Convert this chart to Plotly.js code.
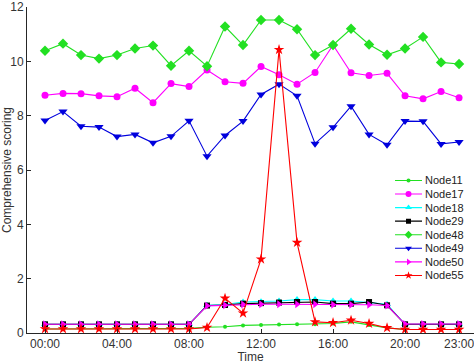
<!DOCTYPE html>
<html>
<head>
<meta charset="utf-8">
<script src="https://cdn.plot.ly/plotly-3.0.1.min.js"></script>
<style>html,body{margin:0;padding:0;background:#fff;}#chart{width:474px;height:364px;}</style>
</head>
<body>
<div id="chart"></div>
<script>
// Hours 0..23
var hours = [0,1,2,3,4,5,6,7,8,9,10,11,12,13,14,15,16,17,18,19,20,21,22,23];
var tickVals = [0,4,8,12,16,20,23];
var tickText = ["00:00","04:00","08:00","12:00","16:00","20:00","23:00"];
var seriesNames = ["Node11","Node17","Node18","Node29","Node48","Node49","Node50","Node55"];

var node11 = [0.15,0.15,0.15,0.15,0.15,0.15,0.15,0.15,0.17,0.21,0.23,0.28,0.29,0.31,0.32,0.32,0.35,0.41,0.29,0.19,0.13,0.13,0.13,0.13];
var node17 = [8.75,8.82,8.81,8.73,8.70,9.01,8.48,9.18,9.07,9.68,9.25,9.19,9.81,9.51,9.16,9.59,10.60,9.58,9.48,9.56,8.73,8.62,8.89,8.66];
var node18 = [0.32,0.32,0.32,0.32,0.32,0.32,0.32,0.32,0.32,1.02,1.05,1.14,1.15,1.18,1.23,1.23,1.18,1.18,1.12,1.06,0.32,0.32,0.32,0.32];
var node29 = [0.32,0.32,0.32,0.32,0.32,0.32,0.32,0.32,0.32,1.01,1.03,1.08,1.10,1.12,1.14,1.14,1.08,1.08,1.14,1.02,0.32,0.32,0.32,0.32];
var node48 = [10.39,10.65,10.23,10.10,10.23,10.47,10.58,9.84,10.39,9.82,11.28,10.60,11.52,11.52,11.18,10.23,10.60,11.20,10.62,10.24,10.47,10.90,9.96,9.90];
var node49 = [7.82,8.15,7.61,7.58,7.23,7.31,7.00,7.24,7.81,6.51,7.27,7.80,8.78,9.16,8.73,6.97,7.57,8.35,7.31,6.93,7.80,7.79,6.96,7.03];
var node50 = [0.32,0.32,0.32,0.32,0.32,0.32,0.32,0.32,0.32,1.00,1.02,1.05,1.06,1.06,1.06,1.06,1.04,1.04,1.04,1.01,0.33,0.33,0.33,0.33];
var node55 = [0.15,0.15,0.15,0.15,0.15,0.15,0.15,0.15,0.15,0.20,1.28,0.73,2.72,10.43,3.33,0.41,0.38,0.47,0.35,0.19,0.13,0.13,0.13,0.13];

var seriesValues = [node11, node17, node18, node29, node48, node49, node50, node55];
var colors = ['#22e022','#ff00ff','#00ffff','#000000','#22e022','#0000dd','#ff00ff','#ff0000'];
var symbols = ['circle','circle','triangle-up','square','diamond','triangle-down','triangle-right','star'];
var sizes = [4,7,7,6,8,8,7,8];
var legSizes = [4,6,6,5,6,6,6,6];

var data = [];
seriesNames.forEach(function (name, i) {
  data.push({x: hours, y: seriesValues[i], name: name, type: 'scatter', mode: 'lines+markers',
    showlegend: false,
    line: {color: colors[i], width: 1.1},
    marker: {color: colors[i], symbol: symbols[i], size: sizes[i], line: {width: 0}}});
});
// Compact legend (MATLAB-style spacing) on a small auxiliary axis pair
var annotations = [];
seriesNames.forEach(function (name, i) {
  data.push({x: [0, 1], y: [i, i], xaxis: 'x2', yaxis: 'y2', mode: 'lines', showlegend: false,
    hoverinfo: 'skip', line: {color: colors[i], width: 1.1}});
  data.push({x: [0.5], y: [i], xaxis: 'x2', yaxis: 'y2', mode: 'markers', showlegend: false,
    hoverinfo: 'skip', marker: {color: colors[i], symbol: symbols[i], size: legSizes[i], line: {width: 0}}});
  annotations.push({xref: 'paper', yref: 'y2', x: 0.886, y: i, xanchor: 'left', yanchor: 'middle',
    text: name, showarrow: false, font: {size: 11, color: '#222'}});
});

var axisColor = '#262626';
var layout = {
  width: 474, height: 364,
  margin: {l: 27, r: 0, t: 7, b: 31, pad: 0},
  paper_bgcolor: '#fff', plot_bgcolor: '#fff',
  font: {family: 'Liberation Sans, Arial, sans-serif', size: 12, color: '#333'},
  showlegend: false,
  annotations: annotations,
  xaxis: {range: [-1, 23.83], tickmode: 'array', tickvals: tickVals, ticktext: tickText,
    showgrid: false, zeroline: false, showline: true, linecolor: axisColor, linewidth: 1,
    ticks: 'inside', ticklen: 4, tickcolor: axisColor, ticklabeloverflow: 'allow',
    title: {text: 'Time', font: {size: 12, color: '#333'}, standoff: 2}},
  yaxis: {range: [0, 12], tickvals: [0,2,4,6,8,10,12],
    showgrid: false, zeroline: false, showline: true, linecolor: axisColor, linewidth: 1,
    ticks: 'inside', ticklen: 4, tickcolor: axisColor, ticklabeloverflow: 'allow',
    title: {text: 'Comprehensive scoring', font: {size: 12, color: '#333'}, standoff: 2}},
  xaxis2: {domain: [0.8233, 0.8837], range: [0, 1], anchor: 'y2', visible: false, fixedrange: true},
  yaxis2: {domain: [0.1557, 0.4888], range: [7.5, -0.5], anchor: 'x2', visible: false, fixedrange: true}
};
Plotly.newPlot('chart', data, layout, {displayModeBar: false, staticPlot: true});
</script>
</body>
</html>
